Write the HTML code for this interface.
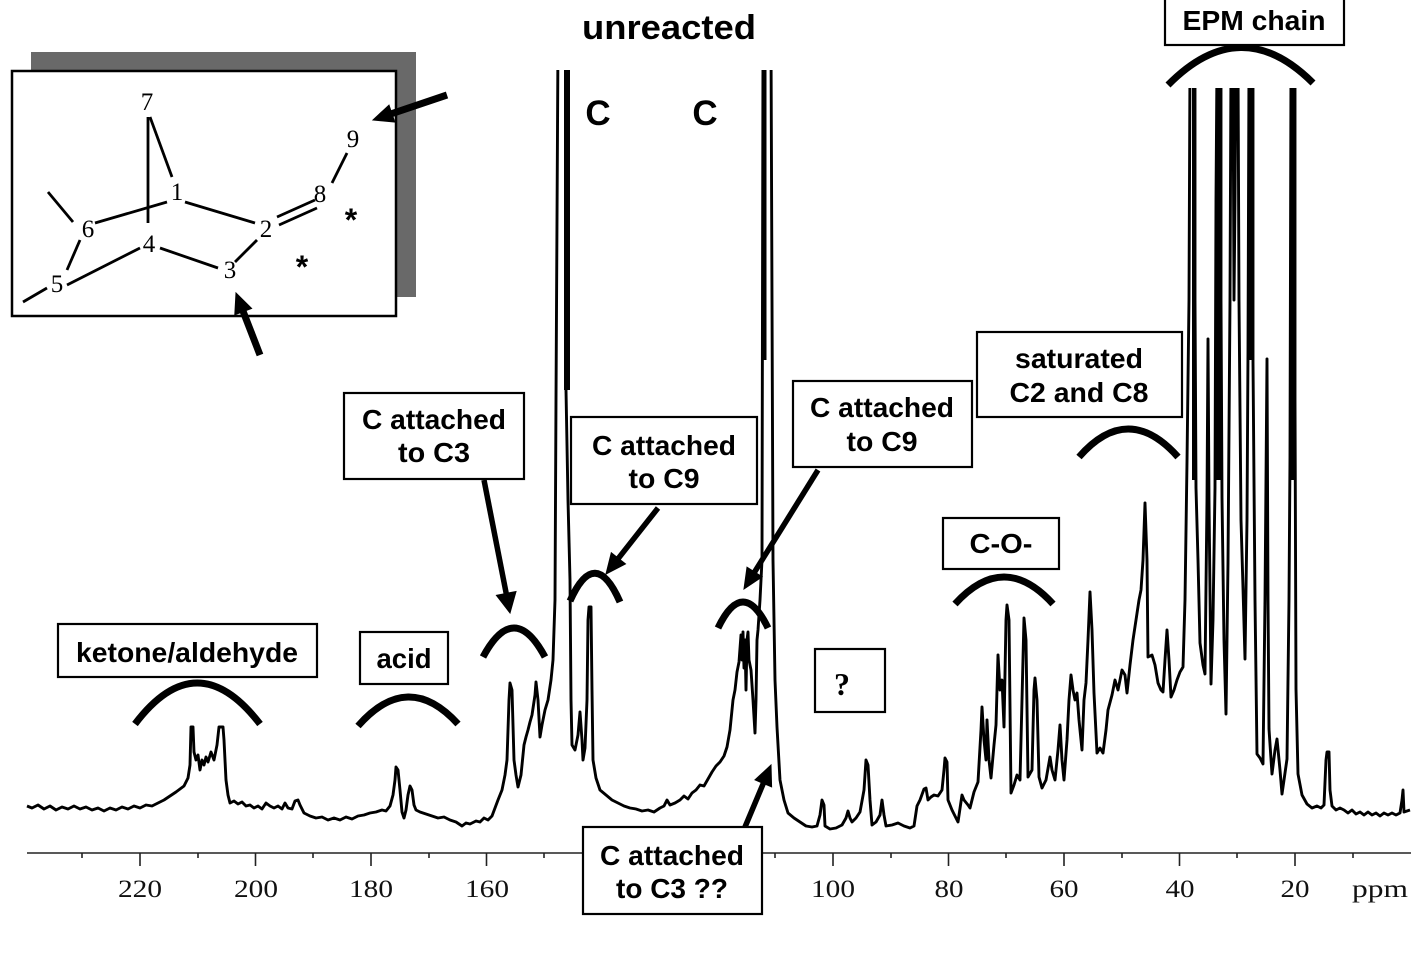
<!DOCTYPE html>
<html><head><meta charset="utf-8"><style>
html,body{margin:0;padding:0;background:#fff;}
svg{display:block;}
.lb{font-family:"Liberation Sans",Arial,sans-serif;font-weight:bold;font-size:28px;fill:#000;}
.tk{font-family:"Liberation Serif","Times New Roman",serif;font-size:25px;fill:#111;}
.at{font-family:"Liberation Serif","Times New Roman",serif;font-size:25px;fill:#000;}
</style></head><body>
<svg width="1424" height="954" viewBox="0 0 1424 954" xmlns="http://www.w3.org/2000/svg">
<defs>
<clipPath id="cp">
<rect x="0" y="70" width="1000" height="900"/>
<rect x="1000" y="88" width="424" height="900"/>
</clipPath>
</defs>
<rect width="1424" height="954" fill="#fff"/>

<!-- inset -->
<rect x="31" y="52" width="385" height="245" fill="#696969"/>
<rect x="12" y="71" width="384" height="245" fill="#fff" stroke="#000" stroke-width="2.5"/>
<g stroke="#000" stroke-width="2.8" fill="none" stroke-linecap="butt">
<line x1="150" y1="117" x2="172" y2="177"/>
<line x1="148" y1="117" x2="148" y2="223"/>
<line x1="167" y1="202" x2="95" y2="223"/>
<line x1="185" y1="202" x2="255" y2="223"/>
<line x1="277" y1="217" x2="315" y2="200"/>
<line x1="279" y1="225" x2="317" y2="208"/>
<line x1="332" y1="183" x2="347" y2="153"/>
<line x1="257" y1="240" x2="235" y2="262"/>
<line x1="160" y1="248" x2="218" y2="268"/>
<line x1="140" y1="248" x2="67" y2="285"/>
<line x1="80" y1="240" x2="67" y2="270"/>
<line x1="48" y1="192" x2="73" y2="222"/>
<line x1="23" y1="302" x2="47" y2="288"/>
</g>
<g class="at" text-anchor="middle">
<text x="147" y="110">7</text>
<text x="177" y="200">1</text>
<text x="88" y="237">6</text>
<text x="149" y="252">4</text>
<text x="266" y="237">2</text>
<text x="320" y="202">8</text>
<text x="353" y="147">9</text>
<text x="230" y="278">3</text>
<text x="57" y="292">5</text>
</g>
<g class="lb" style="font-size:32px" text-anchor="middle">
<text x="351" y="231">*</text>
<text x="302" y="278">*</text>
</g>
<!-- inset arrows -->
<g stroke="#000" stroke-width="7" fill="#000">
<line x1="447" y1="95" x2="392" y2="113.6"/>
<polygon points="373,120 389,105.1 394.8,122.1" stroke-width="1"/>
<line x1="260" y1="355" x2="243.2" y2="311.6"/>
<polygon points="236,293 251.6,308.4 234.8,314.8" stroke-width="1"/>
</g>

<!-- axis -->
<g stroke="#222" stroke-width="1.6">
<line x1="27" y1="853" x2="1411" y2="853"/>
<line x1="140" y1="853" x2="140" y2="866"/>
<line x1="255.5" y1="853" x2="255.5" y2="866"/>
<line x1="371" y1="853" x2="371" y2="866"/>
<line x1="486.5" y1="853" x2="486.5" y2="866"/>
<line x1="602" y1="853" x2="602" y2="866"/>
<line x1="717.5" y1="853" x2="717.5" y2="866"/>
<line x1="833" y1="853" x2="833" y2="866"/>
<line x1="948.5" y1="853" x2="948.5" y2="866"/>
<line x1="1064" y1="853" x2="1064" y2="866"/>
<line x1="1179.5" y1="853" x2="1179.5" y2="866"/>
<line x1="1295" y1="853" x2="1295" y2="866"/>
<line x1="82" y1="853" x2="82" y2="858"/>
<line x1="198" y1="853" x2="198" y2="858"/>
<line x1="313" y1="853" x2="313" y2="858"/>
<line x1="429" y1="853" x2="429" y2="858"/>
<line x1="544" y1="853" x2="544" y2="858"/>
<line x1="660" y1="853" x2="660" y2="858"/>
<line x1="775" y1="853" x2="775" y2="858"/>
<line x1="891" y1="853" x2="891" y2="858"/>
<line x1="1006" y1="853" x2="1006" y2="858"/>
<line x1="1122" y1="853" x2="1122" y2="858"/>
<line x1="1237" y1="853" x2="1237" y2="858"/>
<line x1="1353" y1="853" x2="1353" y2="858"/>
</g>
<g class="tk" text-anchor="middle">
<text x="140" y="897" textLength="44" lengthAdjust="spacingAndGlyphs">220</text>
<text x="256" y="897" textLength="44" lengthAdjust="spacingAndGlyphs">200</text>
<text x="371" y="897" textLength="44" lengthAdjust="spacingAndGlyphs">180</text>
<text x="487" y="897" textLength="44" lengthAdjust="spacingAndGlyphs">160</text>
<text x="833" y="897" textLength="44" lengthAdjust="spacingAndGlyphs">100</text>
<text x="949" y="897" textLength="29" lengthAdjust="spacingAndGlyphs">80</text>
<text x="1064" y="897" textLength="29" lengthAdjust="spacingAndGlyphs">60</text>
<text x="1180" y="897" textLength="29" lengthAdjust="spacingAndGlyphs">40</text>
<text x="1295" y="897" textLength="29" lengthAdjust="spacingAndGlyphs">20</text>
<text x="1380" y="897" textLength="56" lengthAdjust="spacingAndGlyphs">ppm</text>
</g>

<!-- spectrum -->
<g clip-path="url(#cp)">
<path fill="none" stroke="#000" stroke-width="2.9" stroke-linejoin="round" d="M27,806 L32,808 L38,805 L44,809 L50,806 L56,810 L62,807 L68,809 L74,806 L80,809 L86,807 L92,810 L98,808 L104,811 L110,808 L116,810 L122,807 L128,809 L134,806 L140,808 L146,805 L152,806 L158,803 L164,800 L170,796 L176,792 L180,789 L184,786 L188,778 L190,765 L191,727 L193,727 L194,752 L196,760 L198,755 L200,770 L202,760 L204,765 L206,757 L208,762 L211,752 L214,760 L217,745 L219,727 L221,727 L223,727 L224,740 L226,780 L228,795 L230,803 L234,801 L238,804 L242,802 L246,806 L250,805 L254,808 L258,806 L262,809 L266,803 L270,806 L274,808 L278,806 L282,809 L285,803 L288,808 L292,809 L295,801 L298,800 L300,805 L304,813 L310,816 L316,818 L322,817 L328,820 L334,818 L340,820 L346,817 L352,819 L358,816 L364,815 L370,813 L376,812 L382,810 L386,811 L390,806 L393,795 L395,780 L396,767 L398,770 L400,790 L402,812 L404,818 L406,810 L408,795 L410,786 L412,790 L414,805 L416,810 L420,812 L426,814 L432,816 L438,818 L444,817 L450,820 L456,822 L462,826 L466,823 L470,824 L476,821 L480,822 L484,818 L488,820 L492,816 L495,808 L498,800 L502,790 L505,775 L507,760 L509,700 L510,683 L512,690 L514,760 L516,775 L518,787 L521,775 L524,745 L526,737 L528,730 L530,722 L532,715 L535,695 L536,682 L538,700 L540,737 L542,725 L545,710 L548,700 L551,680 L553,660 L555,600 L556,400 L558,40 L566,40 L566,390 L568,500 L570,580 L571,700 L572,745 L575,750 L578,735 L580,712 L582,740 L583,760 L585,748 L587,700 L588,620 L589,607 L591,607 L592,690 L593,760 L596,778 L600,790 L606,795 L612,800 L618,803 L624,806 L630,808 L636,809 L642,811 L648,810 L654,812 L660,808 L664,806 L667,800 L670,805 L675,803 L680,800 L684,796 L688,799 L692,793 L696,790 L700,785 L704,786 L708,779 L712,772 L716,766 L720,762 L724,756 L727,747 L730,730 L733,700 L735,690 L737,672 L739,662 L741,635 L742,660 L743,632 L744,668 L745,640 L746,690 L747,640 L748,632 L749,660 L751,670 L753,700 L755,733 L756,700 L757,640 L758,630 L760,600 L762,560 L763,40 L771,40 L772,300 L773,560 L775,680 L777,727 L780,780 L784,800 L788,813 L794,818 L800,822 L806,826 L812,827 L817,826 L820,815 L822,800 L824,805 L825,826 L830,829 L836,828 L842,825 L846,818 L848,811 L850,818 L852,822 L856,818 L860,812 L864,790 L866,760 L868,765 L870,800 L872,825 L876,822 L880,815 L882,800 L884,815 L886,826 L892,825 L898,823 L904,826 L910,828 L914,826 L917,806 L920,800 L924,789 L926,788 L928,800 L931,797 L934,795 L938,796 L942,790 L944,770 L945,758 L947,762 L948,800 L952,810 L956,818 L958,822 L962,795 L964,800 L968,805 L970,808 L974,792 L978,782 L981,730 L982,707 L984,740 L986,760 L987,720 L989,760 L991,778 L994,745 L996,725 L998,655 L1000,690 L1002,680 L1004,727 L1006,620 L1007,605 L1009,620 L1011,793 L1014,785 L1017,775 L1020,780 L1022,700 L1024,618 L1026,640 L1028,777 L1032,770 L1034,690 L1035,678 L1037,700 L1039,777 L1042,788 L1046,780 L1050,757 L1052,770 L1055,780 L1058,750 L1060,725 L1062,760 L1064,780 L1067,740 L1069,700 L1071,675 L1073,690 L1075,700 L1077,693 L1079,720 L1082,750 L1084,700 L1086,683 L1088,640 L1090,592 L1092,630 L1094,693 L1097,753 L1100,748 L1103,753 L1106,730 L1108,710 L1112,695 L1115,680 L1118,690 L1122,670 L1125,675 L1127,693 L1130,665 L1133,640 L1136,620 L1139,600 L1141,590 L1143,560 L1145,503 L1147,560 L1148,657 L1152,655 L1155,665 L1158,683 L1161,690 L1163,692 L1165,660 L1167,630 L1169,660 L1171,697 L1174,690 L1177,680 L1180,672 L1183,667 L1185,600 L1187,462 L1189,300 L1190,60 L1195,60 L1195,300 L1196,488 L1198,560 L1200,643 L1203,665 L1205,674 L1207,500 L1208,339 L1209,500 L1211,684 L1213,620 L1215,488 L1216,200 L1217,60 L1221,60 L1221,300 L1222,498 L1224,640 L1226,714 L1228,563 L1230,300 L1231,60 L1233,60 L1234,300 L1235,200 L1236,60 L1238,60 L1239,300 L1241,520 L1243,588 L1245,659 L1247,520 L1248,352 L1249,60 L1253,60 L1253,362 L1255,600 L1257,754 L1260,758 L1263,764 L1265,600 L1267,359 L1268,600 L1269,729 L1272,774 L1275,750 L1277,739 L1280,770 L1282,794 L1284,780 L1287,759 L1289,600 L1290,457 L1291,60 L1295,60 L1295,400 L1296,689 L1298,774 L1302,795 L1307,804 L1312,808 L1317,806 L1321,808 L1324,805 L1326,760 L1327,752 L1329,752 L1330,790 L1332,806 L1336,810 L1340,808 L1344,810 L1348,813 L1352,810 L1356,814 L1360,812 L1364,815 L1368,812 L1372,815 L1376,813 L1380,816 L1384,813 L1388,815 L1392,813 L1396,815 L1400,813 L1402,800 L1403,790 L1404,812 L1407,811 L1410,810"/>
<g stroke="#000" fill="none">
<line x1="567" y1="60" x2="567" y2="390" stroke-width="6"/>
<line x1="764" y1="60" x2="764" y2="360" stroke-width="5"/>
<line x1="1194" y1="60" x2="1194" y2="480" stroke-width="4"/>
<line x1="1218.5" y1="60" x2="1218.5" y2="480" stroke-width="5"/>
<line x1="1251" y1="60" x2="1251" y2="360" stroke-width="5"/>
<line x1="1293" y1="60" x2="1293" y2="480" stroke-width="5"/>
</g>
</g>

<!-- arcs -->
<g fill="none" stroke="#000" stroke-width="7">
<path d="M135,724 Q197,642 260,724"/>
<path d="M358,726 Q408,669 458,724"/>
<path d="M483,657 Q514,599 545,657"/>
<path d="M570,601 Q595,545 620,602"/>
<path d="M718,628 Q743,576 768,628"/>
<path d="M955,604 Q1004,550 1053,604"/>
<path d="M1079,457 Q1128,401 1178,457"/>
<path d="M1168,85 Q1241,11 1313,83"/>
</g>

<!-- arrows -->
<g stroke="#000" stroke-width="5.5" fill="#000">
<line x1="484" y1="480" x2="506.2" y2="593.4"/>
<polygon points="510,613 496.4,595.3 516,591.5" stroke-width="1"/>
<line x1="658" y1="508" x2="618.4" y2="558.3"/>
<polygon points="606,574 611.3,552.7 625.5,563.9" stroke-width="1"/>
<line x1="818" y1="470" x2="754.6" y2="572"/>
<polygon points="744,589 747,567.2 762.2,576.8" stroke-width="1"/>
<line x1="745" y1="827" x2="763.3" y2="783.4"/>
<polygon points="771,765 771.6,786.9 755,779.9" stroke-width="1"/>
</g>

<!-- label boxes -->
<g fill="#fff" stroke="#000" stroke-width="2.2">
<rect x="1165" y="-3" width="179" height="48"/>
<rect x="977" y="332" width="205" height="85"/>
<rect x="793" y="381" width="179" height="86"/>
<rect x="943" y="518" width="116" height="51"/>
<rect x="344" y="393" width="180" height="86"/>
<rect x="571" y="417" width="186" height="87"/>
<rect x="58" y="624" width="259" height="53"/>
<rect x="360" y="632" width="88" height="52"/>
<rect x="815" y="649" width="70" height="63"/>
<rect x="583" y="827" width="179" height="87"/>
</g>

<g class="lb" text-anchor="middle">
<text x="669" y="39" style="font-size:34px" textLength="174" lengthAdjust="spacingAndGlyphs">unreacted</text>
<text x="598" y="125" style="font-size:35px">C</text>
<text x="705" y="125" style="font-size:35px">C</text>
<text x="1254" y="30" textLength="143" lengthAdjust="spacingAndGlyphs">EPM chain</text>
<text x="1079" y="368" textLength="128" lengthAdjust="spacingAndGlyphs">saturated</text>
<text x="1079" y="402" textLength="139" lengthAdjust="spacingAndGlyphs">C2 and C8</text>
<text x="882" y="417" textLength="144" lengthAdjust="spacingAndGlyphs">C attached</text>
<text x="882" y="451" textLength="71" lengthAdjust="spacingAndGlyphs">to C9</text>
<text x="1001" y="553" textLength="63" lengthAdjust="spacingAndGlyphs">C-O-</text>
<text x="434" y="429" textLength="144" lengthAdjust="spacingAndGlyphs">C attached</text>
<text x="434" y="462" textLength="72" lengthAdjust="spacingAndGlyphs">to C3</text>
<text x="664" y="455" textLength="144" lengthAdjust="spacingAndGlyphs">C attached</text>
<text x="664" y="488" textLength="71" lengthAdjust="spacingAndGlyphs">to C9</text>
<text x="187" y="662" textLength="222" lengthAdjust="spacingAndGlyphs">ketone/aldehyde</text>
<text x="404" y="668" textLength="55" lengthAdjust="spacingAndGlyphs">acid</text>
<text x="672" y="865" textLength="144" lengthAdjust="spacingAndGlyphs">C attached</text>
<text x="672" y="898" textLength="112" lengthAdjust="spacingAndGlyphs">to C3 ??</text>
</g>
<text x="842" y="695" text-anchor="middle" style="font-family:'Liberation Serif','Times New Roman',serif;font-weight:bold;font-size:32px;">?</text>
</svg>
</body></html>
